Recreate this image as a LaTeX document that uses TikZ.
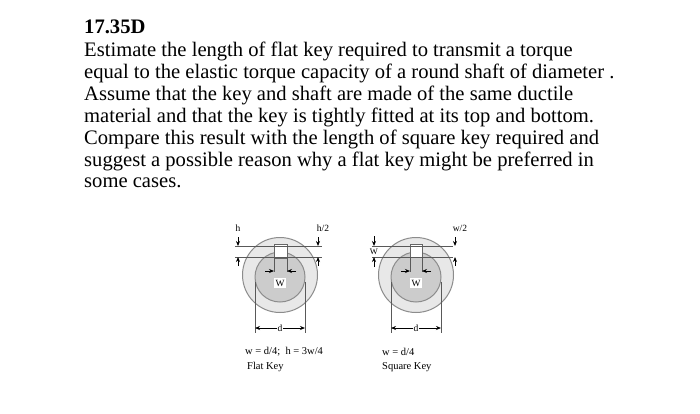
\documentclass[tikz,border=0pt]{standalone}
\usepackage{fontspec}
\setmainfont{Liberation Serif}
\usetikzlibrary{arrows.meta}
\begin{document}
\begin{tikzpicture}[x=1pt,y=-1pt,
  txt/.style={anchor=west,inner sep=0,font=\fontsize{20.6}{22}\selectfont},
  lab/.style={inner sep=0.5,font=\fontsize{9.5}{10}\selectfont},
  captxt/.style={anchor=west,inner sep=0,font=\fontsize{10.5}{11}\selectfont},
  outer/.style={draw=gray!90,fill=gray!18,line width=1},
  inner/.style={draw=gray!90,fill=gray!40,line width=1},
  keyb/.style={draw=gray!80!black,fill=white,line width=0.9},
  ln/.style={draw=gray!70!black,line width=0.9},
  ar/.style={-{Stealth[length=5,width=4]},line width=0.8}]
\useasboundingbox (0,0) rectangle (700,413);
\fill[white] (0,0) rectangle (700,413);
\node[txt,font=\bfseries\fontsize{20.6}{22}\selectfont] (t0) at (84,27) {17.35D};
\node[txt] (t1) at (84,51) {Estimate the length of flat key required to transmit a torque};
\node[txt] (t2) at (84,73) {equal to the elastic torque capacity of a round shaft of diameter .};
\node[txt] (t3) at (84,95) {Assume that the key and shaft are made of the same ductile};
\node[txt] (t4) at (84,117) {material and that the key is tightly fitted at its top and bottom.};
\node[txt] (t5) at (84,139) {Compare this result with the length of square key required and};
\node[txt] (t6) at (84,161) {suggest a possible reason why a flat key might be preferred in};
\node[txt] (t7) at (84,183) {some cases.};
% Flat key
\draw[outer] (280,275) circle (37.5);
\draw[inner] (280,277) circle (25);
\draw[keyb] (274,244) rectangle (287,258);
\draw[ln] (235,246) -- (322,246);
\draw[ln] (235,257) -- (322,257);
\draw[ln] (274,258) -- (274,272);
\draw[ln] (287,258) -- (287,272);
\draw[ar] (265,271) -- (274,271); \draw[ar] (296,271) -- (287,271);
\node[lab,fill=white,inner sep=1.5] (w1) at (280,283) {W};
\draw[ln] (255,282) -- (255,333);
\draw[ln] (305,282) -- (305,333);
\node[lab] (d1) at (280,328) {d};
\draw[ar] (d1) -- (255,328); \draw[ar] (d1) -- (305,328);
\node[lab] (h1) at (238,228) {h};
\draw[ar] (238,237) -- (238,246); \draw[ar] (238,266) -- (238,257);
\node[lab] (h2) at (323,228) {h/2};
\draw[ar] (318,237) -- (318,246); \draw[ar] (318,266) -- (318,257);
\node[captxt] (c1) at (245,352) {w = d/4;\enspace h = 3w/4};
\node[captxt] (c2) at (247,367) {Flat Key};
% Square key
\draw[outer] (416,275) circle (37.5);
\draw[inner] (416,277) circle (25);
\draw[keyb] (410,244) rectangle (422,257);
\draw[ln] (372,246) -- (453,246);
\draw[ln] (372,257) -- (453,257);
\draw[ln] (410,257) -- (410,272);
\draw[ln] (422,257) -- (422,272);
\draw[ar] (401,271) -- (410,271); \draw[ar] (431,271) -- (422,271);
\node[lab,fill=white,inner sep=1.5] (w2) at (416,283) {W};
\draw[ln] (391,282) -- (391,333);
\draw[ln] (441,282) -- (441,333);
\node[lab] (d2) at (416,328) {d};
\draw[ar] (d2) -- (391,328); \draw[ar] (d2) -- (441,328);
\draw[ar] (374,236) -- (374,246); \draw[ar] (374,267) -- (374,257);
\node[lab,fill=white,inner sep=0.3,font=\fontsize{8.5}{9}\selectfont] (w3) at (374,251.5) {W};
\node[lab] (w4) at (460,228) {w/2};
\draw[ar] (455,237) -- (455,246); \draw[ar] (455,266) -- (455,257);
\node[captxt] (c3) at (382,352) {w = d/4};
\node[captxt] (c4) at (382,367) {Square Key};
\end{tikzpicture}
\end{document}
